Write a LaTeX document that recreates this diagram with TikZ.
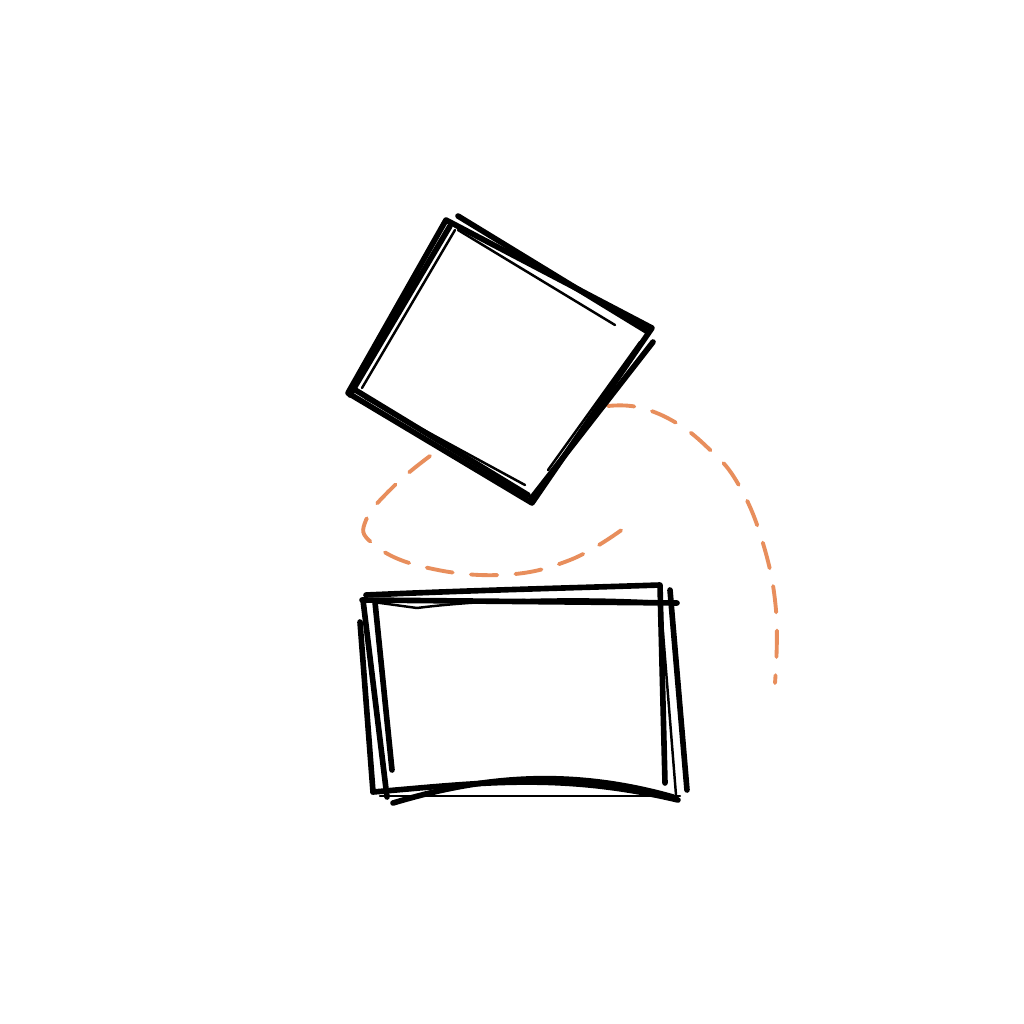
\documentclass[tikz,border=0pt]{standalone}
\begin{document}
\begin{tikzpicture}[x=0.01cm,y=-0.01cm,
  ink/.style={black,line width=1.6pt,line join=round,line cap=round},
  thinink/.style={black,line width=0.7pt,line cap=round},
  trail/.style={draw={rgb,255:red,232;green,142;blue,92},line width=1.1pt,dash pattern=on 7.5pt off 5.2pt,line cap=round}]
\useasboundingbox[fill=white] (0,0) rectangle (1024,1024);
% orange dashed trails
\draw[trail] plot[smooth,tension=0.7] coordinates {(430,456) (395,485) (366,520) (372,543) (420,566) (500,575) (570,560) (627,526)};
\draw[trail] plot[smooth,tension=0.7] coordinates {(608,406) (637,407) (673,421) (707,447) (737,482) (762,540) (776,610) (775,683)};
% tilted square: several strokes
\draw[ink] (446,220) -- (652,328) -- (532,503) -- (348,393) -- cycle;
\draw[ink] (458,216) -- (648,332);
\draw[ink] (653,342) -- (530,500);
\draw[ink] (352,388) -- (528,495);
\draw[ink] (450,226) -- (350,395);
\draw[thinink] (458,230) -- (615,325);
\draw[thinink] (455,230) -- (362,388);
\draw[thinink] (640,342) -- (548,470);
\draw[thinink] (365,398) -- (525,485);
% rectangle: several strokes
\draw[ink] (366,595) .. controls (480,590) and (570,588) .. (660,585) -- (665,783);
\draw[ink] (362,600) -- (677,603);
\draw[ink] (670,590) -- (687,790);
\draw[ink] (373,792) .. controls (480,783) and (560,772) .. (678,800);
\draw[ink] (393,803) .. controls (470,780) and (560,765) .. (673,797);
\draw[ink] (363,600) -- (387,797);
\draw[ink] (360,622) -- (373,792);
\draw[ink] (375,602) -- (392,770);
\draw[thinink] (373,602) -- (417,608) .. controls (480,600) and (580,596) .. (677,603);
\draw[thinink] (660,595) -- (676,795);
\draw[thinink] (380,796) -- (680,796);
\end{tikzpicture}
\end{document}
